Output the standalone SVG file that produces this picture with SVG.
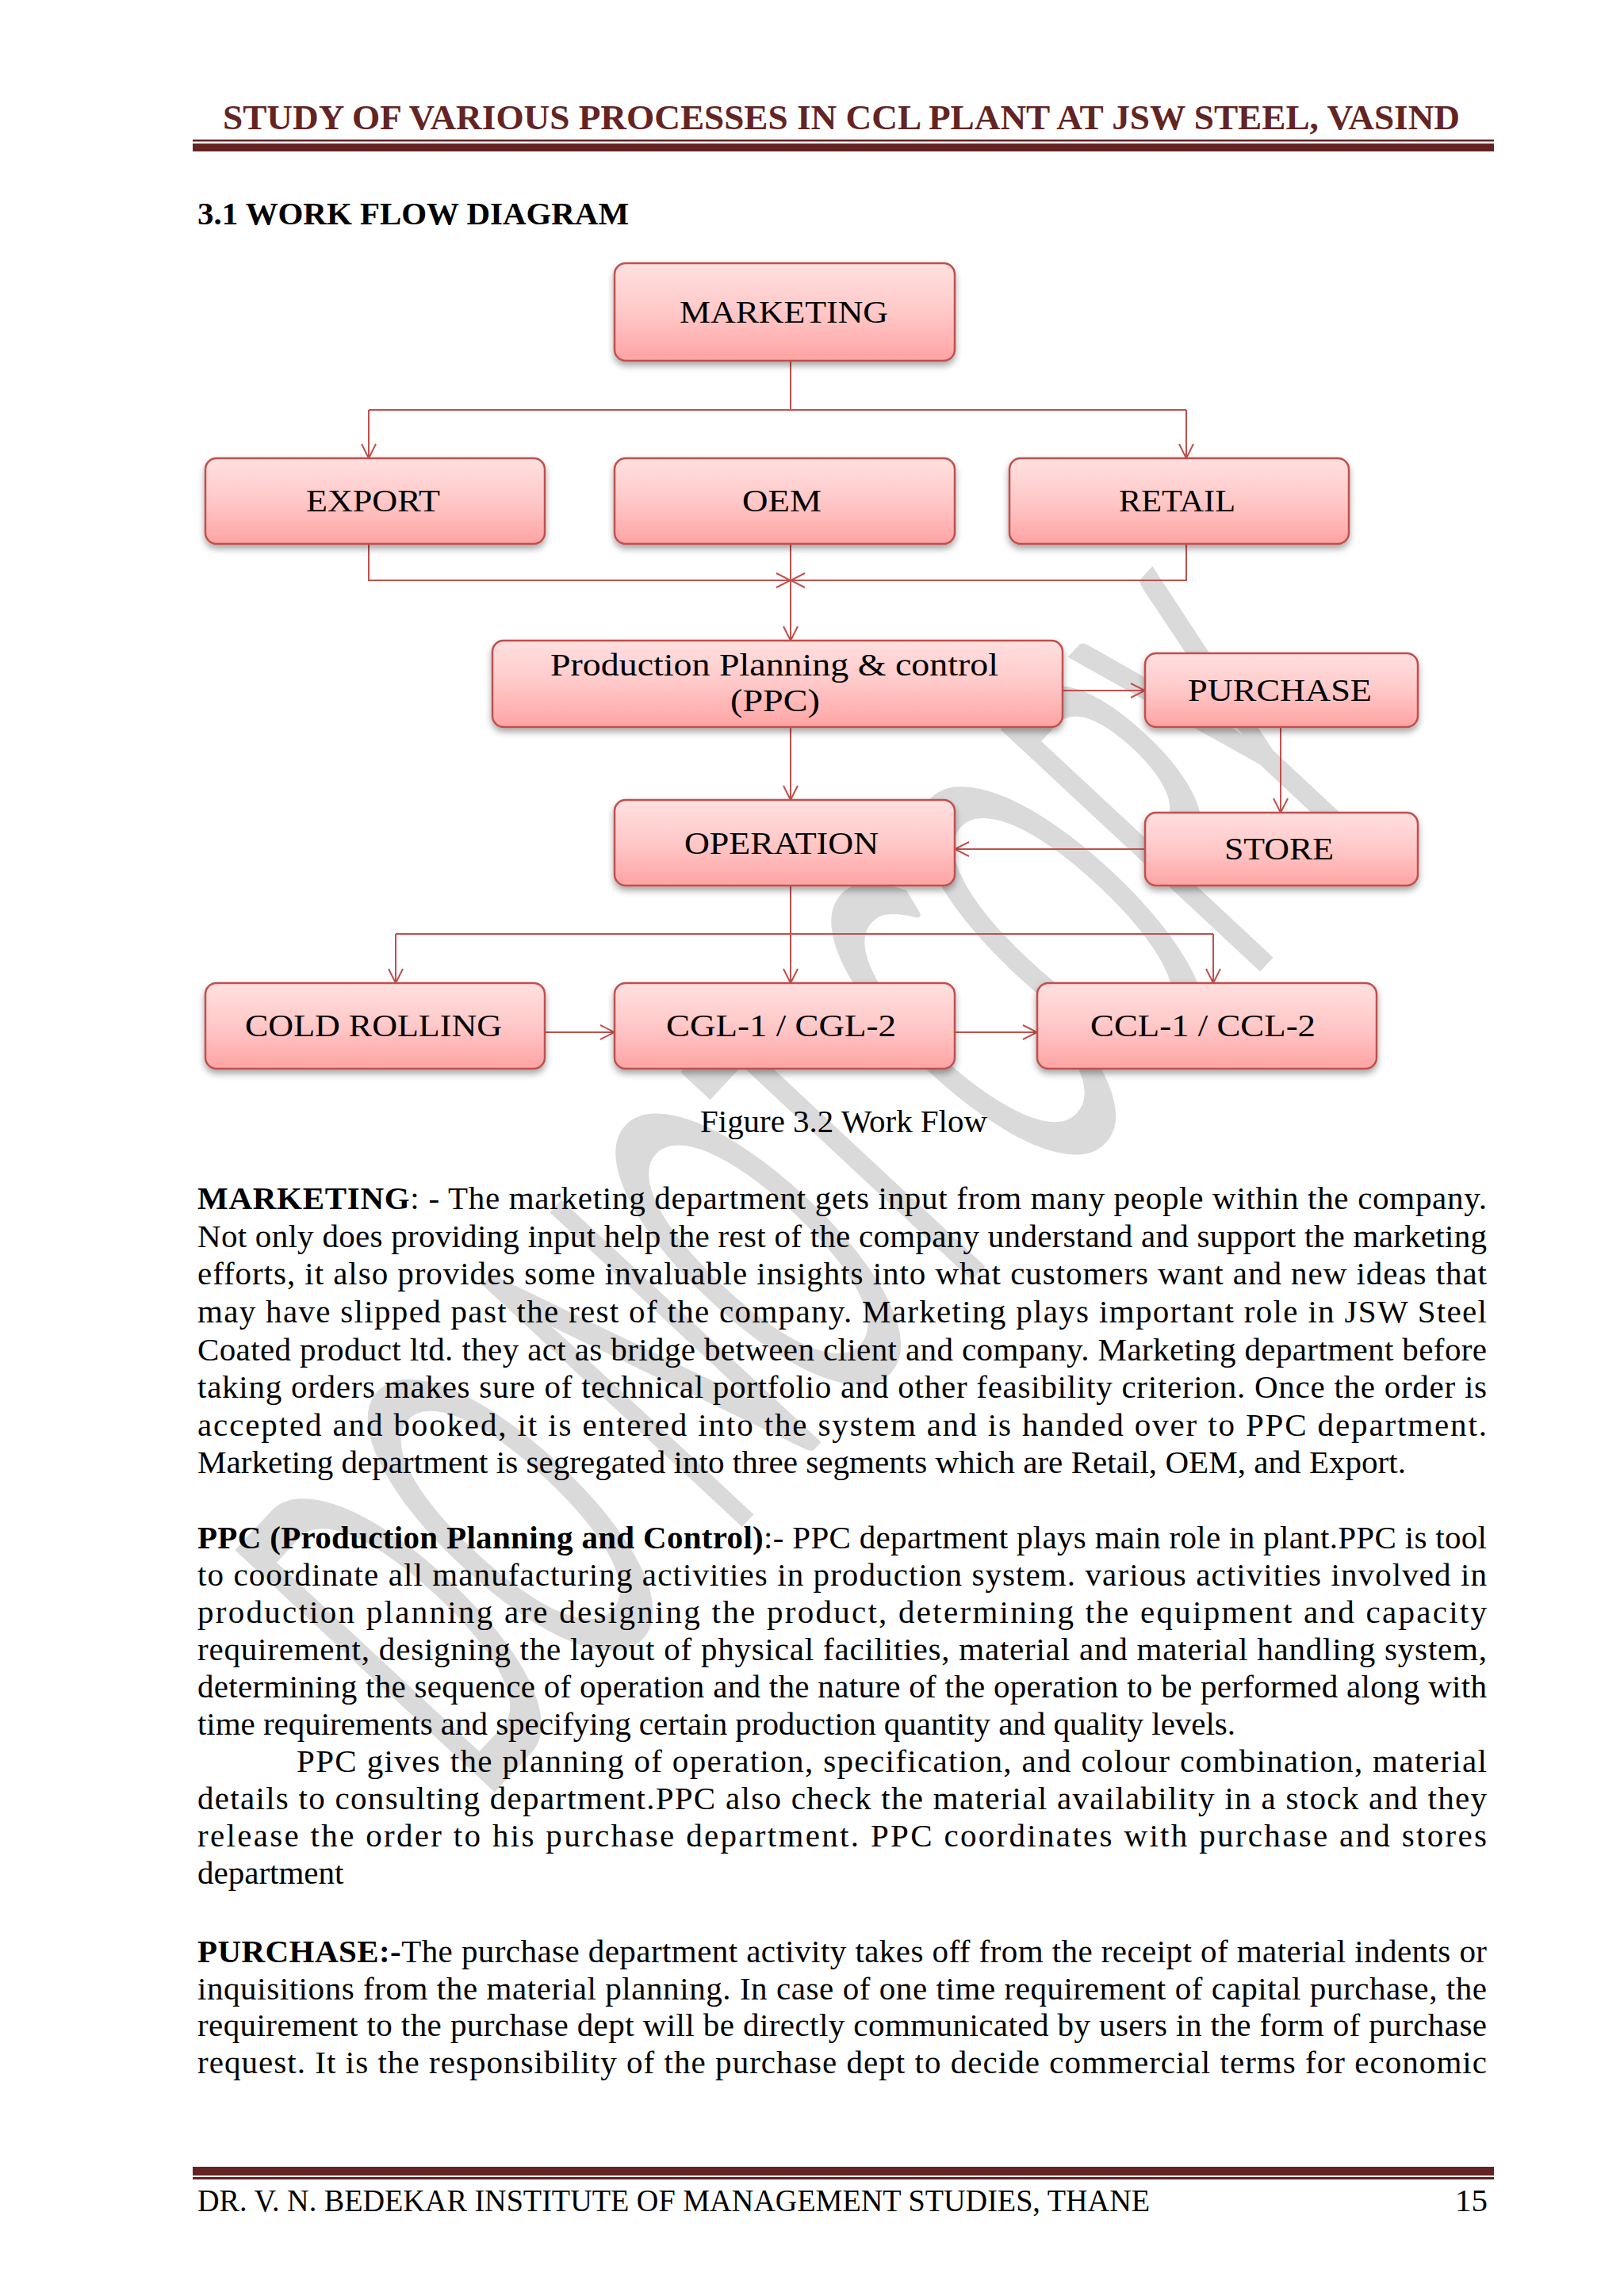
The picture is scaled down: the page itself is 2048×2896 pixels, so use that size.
<svg xmlns="http://www.w3.org/2000/svg" width="2048" height="2896" viewBox="0 0 2048 2896">
<defs>
<linearGradient id="boxfill" x1="0" y1="0" x2="0" y2="1">
<stop offset="0" stop-color="#FFE0E0"/>
<stop offset="0.5" stop-color="#FFC8C8"/>
<stop offset="1" stop-color="#FFA3A3"/>
</linearGradient>
<filter id="shadow" x="-10%" y="-10%" width="120%" height="140%">
<feDropShadow dx="0" dy="5" stdDeviation="4" flood-color="#000" flood-opacity="0.35"/>
</filter>
<marker id="arr" viewBox="0 0 20 20" refX="19" refY="10" markerWidth="20" markerHeight="20" markerUnits="userSpaceOnUse" orient="auto">
<path d="M1,1 L19,10 L1,19" fill="none" stroke="#C0504D" stroke-width="2"/>
</marker>
<style>
.box{fill:url(#boxfill);stroke:#C0504D;stroke-width:2.5;filter:url(#shadow)}
.lbl{font-family:"Liberation Serif","Times New Roman",serif;font-size:39px;fill:#000}
.con{fill:none;stroke:#C0504D;stroke-width:2}
.body{font-family:"Liberation Serif","Times New Roman",serif;font-size:41px;fill:#000}
.b{font-weight:bold}
.hdr{font-family:"Liberation Serif","Times New Roman",serif;font-size:44px;font-weight:bold;fill:#632423}
.wm{font-family:Lato,"Open Sans",sans-serif;font-size:625px;fill:#DADADA}
</style>
</defs>
<rect x="0" y="0" width="2048" height="2896" fill="#FFFFFF"/>

<!-- header -->
<g id="header">
<text class="hdr" x="281" y="163" textLength="1560" lengthAdjust="spacingAndGlyphs">STUDY  OF VARIOUS  PROCESSES  IN CCL PLANT AT JSW STEEL,  VASIND</text>
<rect x="243" y="176" width="1641" height="2.5" fill="#632423"/>
<rect x="243" y="181" width="1641" height="10" fill="#632423"/>
</g>

<text class="body b" x="249" y="283" textLength="544" lengthAdjust="spacingAndGlyphs">3.1 WORK FLOW DIAGRAM</text>

<!-- watermark -->
<g id="watermark" transform="translate(1030,1495) rotate(-47)">
<text class="wm" x="0" y="225" text-anchor="middle" textLength="1720" lengthAdjust="spacingAndGlyphs">DO NOT COPY</text>
</g>

<!-- connectors -->
<g id="connectors">
<path class="con" d="M997,455 V517"/>
<path class="con" d="M465,517 H1496"/>
<path class="con" d="M465,517 V578" marker-end="url(#arr)"/>
<path class="con" d="M1496,517 V578" marker-end="url(#arr)"/>
<path class="con" d="M465,686 V732 H997" marker-end="url(#arr)"/>
<path class="con" d="M1496,686 V732 H997" marker-end="url(#arr)"/>
<path class="con" d="M997,686 V808" marker-end="url(#arr)"/>
<path class="con" d="M1340,871 H1444" marker-end="url(#arr)"/>
<path class="con" d="M1615,917 V1025" marker-end="url(#arr)"/>
<path class="con" d="M997,917 V1009" marker-end="url(#arr)"/>
<path class="con" d="M1444,1071 H1204" marker-end="url(#arr)"/>
<path class="con" d="M997,1117 V1240" marker-end="url(#arr)"/>
<path class="con" d="M499,1178 H1530"/>
<path class="con" d="M499,1178 V1240" marker-end="url(#arr)"/>
<path class="con" d="M1530,1178 V1240" marker-end="url(#arr)"/>
<path class="con" d="M687,1302 H775" marker-end="url(#arr)"/>
<path class="con" d="M1204,1302 H1308" marker-end="url(#arr)"/>
</g>

<!-- nodes -->
<g id="n-marketing">
<rect class="box" x="775" y="332" width="429" height="123" rx="14"/>
<text class="lbl" x="857" y="407" textLength="263" lengthAdjust="spacingAndGlyphs">MARKETING</text>
</g>
<g id="n-export">
<rect class="box" x="259" y="578" width="428" height="108" rx="14"/>
<text class="lbl" x="386" y="645" textLength="169" lengthAdjust="spacingAndGlyphs">EXPORT</text>
</g>
<g id="n-oem">
<rect class="box" x="775" y="578" width="429" height="108" rx="14"/>
<text class="lbl" x="936" y="645" textLength="100" lengthAdjust="spacingAndGlyphs">OEM</text>
</g>
<g id="n-retail">
<rect class="box" x="1273" y="578" width="428" height="108" rx="14"/>
<text class="lbl" x="1411" y="645" textLength="147" lengthAdjust="spacingAndGlyphs">RETAIL</text>
</g>
<g id="n-ppc">
<rect class="box" x="621" y="808" width="719" height="109" rx="14"/>
<text class="lbl" x="694" y="852" textLength="565" lengthAdjust="spacingAndGlyphs">Production Planning &amp; control</text>
<text class="lbl" x="921" y="897" textLength="113" lengthAdjust="spacingAndGlyphs">(PPC)</text>
</g>
<g id="n-purchase">
<rect class="box" x="1444" y="824" width="344" height="93" rx="14"/>
<text class="lbl" x="1498" y="884" textLength="232" lengthAdjust="spacingAndGlyphs">PURCHASE</text>
</g>
<g id="n-operation">
<rect class="box" x="775" y="1009" width="429" height="108" rx="14"/>
<text class="lbl" x="863" y="1077" textLength="245" lengthAdjust="spacingAndGlyphs">OPERATION</text>
</g>
<g id="n-store">
<rect class="box" x="1444" y="1025" width="344" height="92" rx="14"/>
<text class="lbl" x="1544" y="1084" textLength="138" lengthAdjust="spacingAndGlyphs">STORE</text>
</g>
<g id="n-coldrolling">
<rect class="box" x="259" y="1240" width="428" height="108" rx="14"/>
<text class="lbl" x="309" y="1307" textLength="324" lengthAdjust="spacingAndGlyphs">COLD ROLLING</text>
</g>
<g id="n-cgl">
<rect class="box" x="775" y="1240" width="429" height="108" rx="14"/>
<text class="lbl" x="840" y="1307" textLength="290" lengthAdjust="spacingAndGlyphs">CGL-1 / CGL-2</text>
</g>
<g id="n-ccl">
<rect class="box" x="1308" y="1240" width="428" height="108" rx="14"/>
<text class="lbl" x="1375" y="1307" textLength="284" lengthAdjust="spacingAndGlyphs">CCL-1 / CCL-2</text>
</g>

<text class="body" x="883" y="1428" font-size="40" textLength="362" lengthAdjust="spacingAndGlyphs">Figure  3.2 Work Flow</text>

<!-- body text -->
<g id="para-marketing">
<text class="body" x="249" y="1525" textLength="1626" lengthAdjust="spacing"><tspan class="b">MARKETING</tspan>: - The marketing department gets input from many people within the company.</text>
<text class="body" x="249" y="1573" textLength="1626" lengthAdjust="spacing">Not only does providing input help the rest of the company understand and support the marketing</text>
<text class="body" x="249" y="1620" textLength="1626" lengthAdjust="spacing">efforts, it also provides some invaluable insights into what customers want and new ideas that</text>
<text class="body" x="249" y="1668" textLength="1626" lengthAdjust="spacing">may have slipped past the rest of the company. Marketing plays important role in JSW Steel</text>
<text class="body" x="249" y="1716" textLength="1626" lengthAdjust="spacing">Coated product ltd. they act as bridge between client and company. Marketing department before</text>
<text class="body" x="249" y="1763" textLength="1626" lengthAdjust="spacing">taking orders makes sure of technical portfolio and other feasibility criterion. Once the order is</text>
<text class="body" x="249" y="1811" textLength="1626" lengthAdjust="spacing">accepted and booked, it is entered into the system and is handed over to PPC department.</text>
<text class="body" x="249" y="1858" textLength="1524" lengthAdjust="spacing">Marketing  department  is segregated  into  three segments  which are Retail,  OEM, and Export.</text>
</g>

<g id="para-ppc">
<text class="body" x="249" y="1953" textLength="1626" lengthAdjust="spacing"><tspan class="b">PPC (Production Planning and Control)</tspan>:- PPC department plays main role in plant.PPC is tool</text>
<text class="body" x="249" y="2000" textLength="1626" lengthAdjust="spacing">to coordinate all manufacturing activities in production system. various activities involved in</text>
<text class="body" x="249" y="2047" textLength="1626" lengthAdjust="spacing">production planning are designing the product, determining  the equipment and capacity</text>
<text class="body" x="249" y="2094" textLength="1626" lengthAdjust="spacing">requirement, designing the layout of physical facilities, material and material handling system,</text>
<text class="body" x="249" y="2141" textLength="1626" lengthAdjust="spacing">determining the sequence of operation and the nature of the operation to be performed along with</text>
<text class="body" x="249" y="2188" textLength="1309" lengthAdjust="spacing">time requirements and specifying certain production quantity and quality levels.</text>
<text class="body" x="374" y="2235" textLength="1501" lengthAdjust="spacing">PPC gives the planning of operation, specification, and colour combination, material</text>
<text class="body" x="249" y="2282" textLength="1626" lengthAdjust="spacing">details to consulting department.PPC also check the material availability in a stock and they</text>
<text class="body" x="249" y="2329" textLength="1626" lengthAdjust="spacing">release the order to his purchase department. PPC coordinates with purchase and stores</text>
<text class="body" x="249" y="2376">department</text>
</g>

<g id="para-purchase">
<text class="body" x="249" y="2475" textLength="1626" lengthAdjust="spacing"><tspan class="b">PURCHASE:-</tspan>The purchase department activity takes off from the receipt of material indents or</text>
<text class="body" x="249" y="2522" textLength="1626" lengthAdjust="spacing">inquisitions from the material planning. In case of one time requirement of capital purchase, the</text>
<text class="body" x="249" y="2568" textLength="1626" lengthAdjust="spacing">requirement to the purchase dept will be directly communicated by users in the form of purchase</text>
<text class="body" x="249" y="2615" textLength="1626" lengthAdjust="spacing">request. It is the responsibility of the purchase dept to decide commercial terms for economic</text>
</g>

<!-- footer -->
<g id="footer">
<rect x="243" y="2733" width="1641" height="11" fill="#632423"/>
<rect x="243" y="2746" width="1641" height="3" fill="#632423"/>
<text class="body" x="249" y="2789" font-size="38" textLength="1201" lengthAdjust="spacingAndGlyphs">DR. V. N. BEDEKAR INSTITUTE OF MANAGEMENT STUDIES, THANE</text>
<text class="body" x="1876" y="2789" font-size="38" text-anchor="end">15</text>
</g>
</svg>
